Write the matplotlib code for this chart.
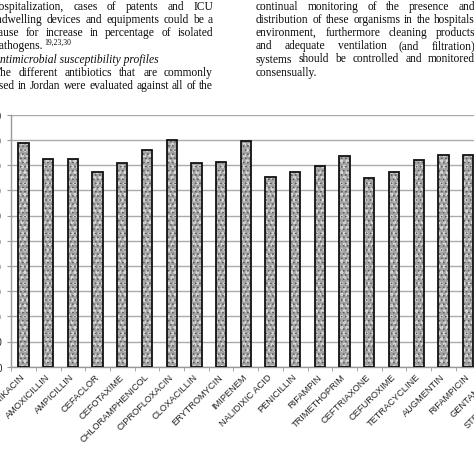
import matplotlib
matplotlib.use("Agg")
import matplotlib.pyplot as plt
from matplotlib.ticker import FixedLocator

categories = ["AMIKACIN", "AMOXICILLIN", "AMPICILLIN", "CEFACLOR", "CEFOTAXIME",
              "CHLORAMPHENICOL", "CIPROFLOXACIN", "CLOXACILLIN", "ERYTROMYCIN",
              "IMIPENEM", "NALIDIXIC ACID", "PENICILLIN", "RIFAMPIN", "TRIMETHOPRIM",
              "CEFTRIAXONE", "CEFUROXIME", "TETRACYCLINE", "AUGMENTIN", "RIFAMPICIN",
              "GENTAMICIN", "STREPTOMYCIN"]
values = [88.6, 82.4, 82.3, 77.4, 80.7, 86.0, 90.0, 80.7, 81.2, 89.6, 75.4, 77.1,
          79.6, 83.7, 74.9, 77.4, 82.1, 83.9, 84.0, 84.0, 82.0]
yticks = [0, 10, 20, 30, 40, 50, 60, 70, 80, 90, 100]

left_col = ["hospitalization, cases of patents and ICU",
            "indwelling devices and equipments could be a",
            "cause for increase in percentage of isolated",
            "pathogens.",
            "Antimicrobial susceptibility profiles",
            "The different antibiotics that are commonly",
            "used in Jordan were evaluated against all of the"]
right_col = ["continual monitoring of the presence and",
             "distribution of these organisms in the hospitals",
             "environment, furthermore cleaning products",
             "and adequate ventilation (and filtration)",
             "systems should be controlled and monitored",
             "consensually."]
superscript = "19,23,30"

W, H = 474, 464
plt.rcParams["hatch.linewidth"] = 0.6
fig = plt.figure(figsize=(W / 100, H / 100), dpi=100)
fig.patch.set_facecolor("white")

# ---- chart ----
ax = fig.add_axes([11.15 / W, (H - 367.7) / H, 518.7 / W, 252.0 / H])
x = list(range(len(categories)))
ax.bar(x, values, width=0.42, color="#a4a4a4", hatch="ooo", edgecolor="#d8d8d8",
       linewidth=0, zorder=3)
ax.bar(x, values, width=0.42, fill=False, hatch="....", edgecolor="#585858",
       linewidth=0, zorder=3)
ax.bar(x, values, width=0.42, fill=False, edgecolor="#111111", linewidth=1.3, zorder=4)

ax.set_xlim(-0.5, len(categories) - 0.5)
ax.set_ylim(0, 100)
ax.set_yticks(yticks)
ax.set_yticklabels([str(v) for v in yticks], fontsize=7, family="Liberation Sans",
                   color="#222222")
ax.tick_params(axis="y", length=3, color="#999999", pad=3.8)
ax.yaxis.grid(True, color="#ababab", linewidth=1.0, zorder=0)
ax.set_xticks(x)
ax.set_xticklabels(categories, rotation=45, ha="right", va="center",
                   rotation_mode="anchor", fontsize=6.7, family="Liberation Sans",
                   color="#222222")
ax.tick_params(axis="x", which="major", length=0, pad=6)
ax.xaxis.set_minor_locator(FixedLocator([i + 0.5 for i in range(-1, len(categories))]))
ax.tick_params(axis="x", which="minor", length=3, color="#999999")
for s in ["top", "right"]:
    ax.spines[s].set_visible(False)
for s in ["left", "bottom"]:
    ax.spines[s].set_color("#999999")
    ax.spines[s].set_linewidth(1.0)

# ---- paper text ----
renderer = fig.canvas.get_renderer()
FS = 8.3

def px2fig(px, py):
    return px / W, 1 - py / H

def place_line(line, x0, x1, ybase, justify=True, style="normal"):
    if not justify:
        t = fig.text(*px2fig(x0, ybase), line, fontsize=FS, family="Liberation Serif",
                     style=style, color="#0a0a0a", va="baseline", ha="left")
        return x0 + t.get_window_extent(renderer).width
    words = line.split(" ")
    texts = []
    widths = []
    for w in words:
        t = fig.text(0, 0, w, fontsize=FS, family="Liberation Serif", style=style,
                     color="#0a0a0a", va="baseline", ha="left")
        texts.append(t)
        widths.append(t.get_window_extent(renderer).width)
    gap = (x1 - x0 - sum(widths)) / (len(words) - 1)
    cx = x0
    for t, w in zip(texts, widths):
        t.set_position(px2fig(cx, ybase))
        cx += w + gap
    return cx - gap

baselines = [9.7, 22.9, 36.1, 49.3, 62.5, 75.7, 88.9]
for i, line in enumerate(left_col):
    just = i not in (3, 4)
    style = "italic" if i == 4 else "normal"
    end = place_line(line, -6, 213, baselines[i], justify=just, style=style)
    if i == 3:
        fig.text(*px2fig(end + 1.2, baselines[i] - 4.5), superscript, fontsize=5.5,
                 family="Liberation Serif", color="#0a0a0a", va="baseline", ha="left")
for i, line in enumerate(right_col):
    just = i != len(right_col) - 1
    place_line(line, 256, 475, baselines[i], justify=just)

fig.savefig("out.png", dpi=100)
